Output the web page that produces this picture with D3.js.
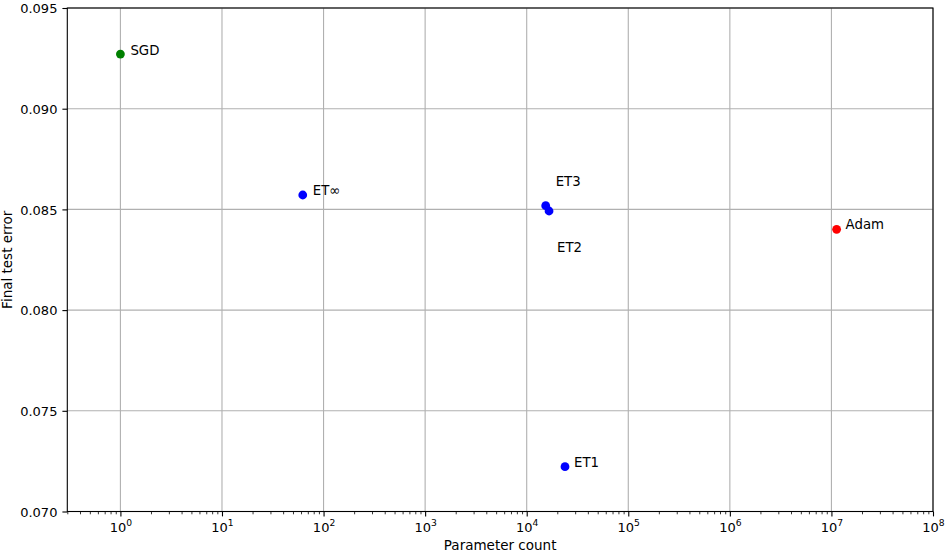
<!DOCTYPE html>
<html>
<head>
<meta charset="utf-8">
<script src="https://cdn.jsdelivr.net/npm/d3@7"></script>
<style>
  html, body { margin: 0; padding: 0; background: #fff; }
  svg { display: block; font-family: 'DejaVu Sans', sans-serif; }
  .grid line { stroke: #b0b0b0; stroke-width: 1.1px; }
  .tick-label { font-size: 13px; fill: #000; }
  .pt-label { font-size: 13.3px; fill: #000; }
  .axis-title { font-size: 13.5px; fill: #000; }
</style>
</head>
<body>
<svg id="chart"></svg>
<script>
// values
const methods     = [ 'SGD', 'ET\u221E', 'ET3', 'ET2', 'ET1', 'Adam' ]
const paramCounts = [ 1, 62.4, 15380, 16590, 23820, 1.125e7 ]
const testErrors  = [ 0.09271, 0.085715, 0.085184, 0.084921, 0.072225, 0.084012 ]
const pointColors = [ '#008000', '#0000ff', '#0000ff', '#0000ff', '#0000ff', '#ff0000' ]

const xMajorExps = [ 0, 1, 2, 3, 4, 5, 6, 7, 8 ]
const yTicks     = [ 0.070, 0.075, 0.080, 0.085, 0.090, 0.095 ]

// label placement relative to the point (px)
const labelOffset = {
  'SGD':  [ 10, 1 ],
  'ET\u221E': [ 10, 0 ],
  'ET3':  [ 10, -20 ],
  'ET2':  [ 8, 41 ],
  'ET1':  [ 9, 0 ],
  'Adam': [ 9, 0 ]
}

const width = 946
const height = 552
const margin = { left: 67.3, right: 13, top: 8, bottom: 40.5 }

const svg = d3.select('#chart')
    .attr('width', width)
    .attr('height', height)

const xScale = d3.scaleLog()
    .domain([ 0.3, 1e8 ])
    .range([ margin.left, width - margin.right ])

const yScale = d3.scaleLinear()
    .domain([ 0.070, 0.095 ])
    .range([ height - margin.bottom, margin.top ])

const x0 = xScale.range()[0], x1 = xScale.range()[1]
const y0 = yScale.range()[0], y1 = yScale.range()[1]

// minor ticks 2..9 per decade
const minorTicks = []
for (let e = -1; e < 8; e++) {
  for (let m = 2; m <= 9; m++) {
    const v = m * Math.pow(10, e)
    if (v >= 0.3 && v <= 1e8) minorTicks.push(v)
  }
}
const majorTicks = xMajorExps.map(e => Math.pow(10, e))

// grid
const grid = svg.append('g').attr('class', 'grid')
grid.selectAll('.gx')
    .data(majorTicks)
    .enter()
    .append('line')
    .attr('x1', d => xScale(d)).attr('x2', d => xScale(d))
    .attr('y1', y0).attr('y2', y1)
grid.selectAll('.gy')
    .data(yTicks)
    .enter()
    .append('line')
    .attr('x1', x0).attr('x2', x1)
    .attr('y1', d => yScale(d)).attr('y2', d => yScale(d))

// x axis
const xAxisMinor = d3.axisBottom(xScale)
    .tickValues(minorTicks)
    .tickSize(2.8)
    .tickFormat('')
const xAxisMajor = d3.axisBottom(xScale)
    .tickValues(majorTicks)
    .tickSize(4.9)
    .tickPadding(4.5)
    .tickFormat('')

svg.append('g')
    .attr('transform', `translate(0,${y0})`)
    .call(xAxisMinor)
    .call(g => g.select('.domain').remove())
    .selectAll('line').attr('stroke', '#000').attr('stroke-width', 0.8)

const gx = svg.append('g')
    .attr('transform', `translate(0,${y0})`)
    .call(xAxisMajor)
gx.select('.domain').remove()
gx.selectAll('line').attr('stroke', '#000').attr('stroke-width', 1.1)

const xt = gx.selectAll('.tick')
    .append('text')
    .attr('class', 'tick-label')
    .attr('y', 20)
    .attr('text-anchor', 'middle')
    .attr('fill', '#000')
    .attr('font-size', 13)
    .attr('font-family', 'DejaVu Sans, sans-serif')
xt.append('tspan').text('10')
xt.append('tspan')
    .attr('font-size', 9.2)
    .attr('dy', -5.5)
    .text(d => Math.round(Math.log10(d)))

// y axis
const gy = svg.append('g')
    .attr('transform', `translate(${x0},0)`)
    .call(d3.axisLeft(yScale)
      .tickValues(yTicks)
      .tickSize(4.9)
      .tickPadding(5)
      .tickFormat(d3.format('.3f')))
gy.select('.domain').remove()
gy.selectAll('line').attr('stroke', '#000').attr('stroke-width', 1.1)
gy.selectAll('text')
    .attr('class', 'tick-label')
    .attr('fill', '#000')
    .attr('font-size', 13)
    .attr('font-family', 'DejaVu Sans, sans-serif')
    .attr('dy', '0.36em')

// frame
svg.append('rect')
    .attr('x', x0).attr('y', y1)
    .attr('width', x1 - x0).attr('height', y0 - y1)
    .attr('fill', 'none')
    .attr('stroke', '#000')
    .attr('stroke-width', 1.1)

// points
const pts = methods.map((m, i) => ({ name: m, x: paramCounts[i], y: testErrors[i], c: pointColors[i] }))

svg.append('g')
    .selectAll('circle')
    .data(pts)
    .enter()
    .append('circle')
    .attr('cx', d => xScale(d.x))
    .attr('cy', d => yScale(d.y))
    .attr('r', 4.4)
    .attr('fill', d => d.c)

svg.append('g')
    .selectAll('text')
    .data(pts)
    .enter()
    .append('text')
    .attr('class', 'pt-label')
    .attr('x', d => xScale(d.x) + labelOffset[d.name][0])
    .attr('y', d => yScale(d.y) + labelOffset[d.name][1])
    .text(d => d.name)

// axis titles
svg.append('text')
    .attr('class', 'axis-title')
    .attr('x', (x0 + x1) / 2)
    .attr('y', 550)
    .attr('text-anchor', 'middle')
    .text('Parameter count')

svg.append('text')
    .attr('class', 'axis-title')
    .attr('transform', `translate(12,${(y0 + y1) / 2}) rotate(-90)`)
    .attr('text-anchor', 'middle')
    .text('Final test error')
</script>
</body>
</html>
